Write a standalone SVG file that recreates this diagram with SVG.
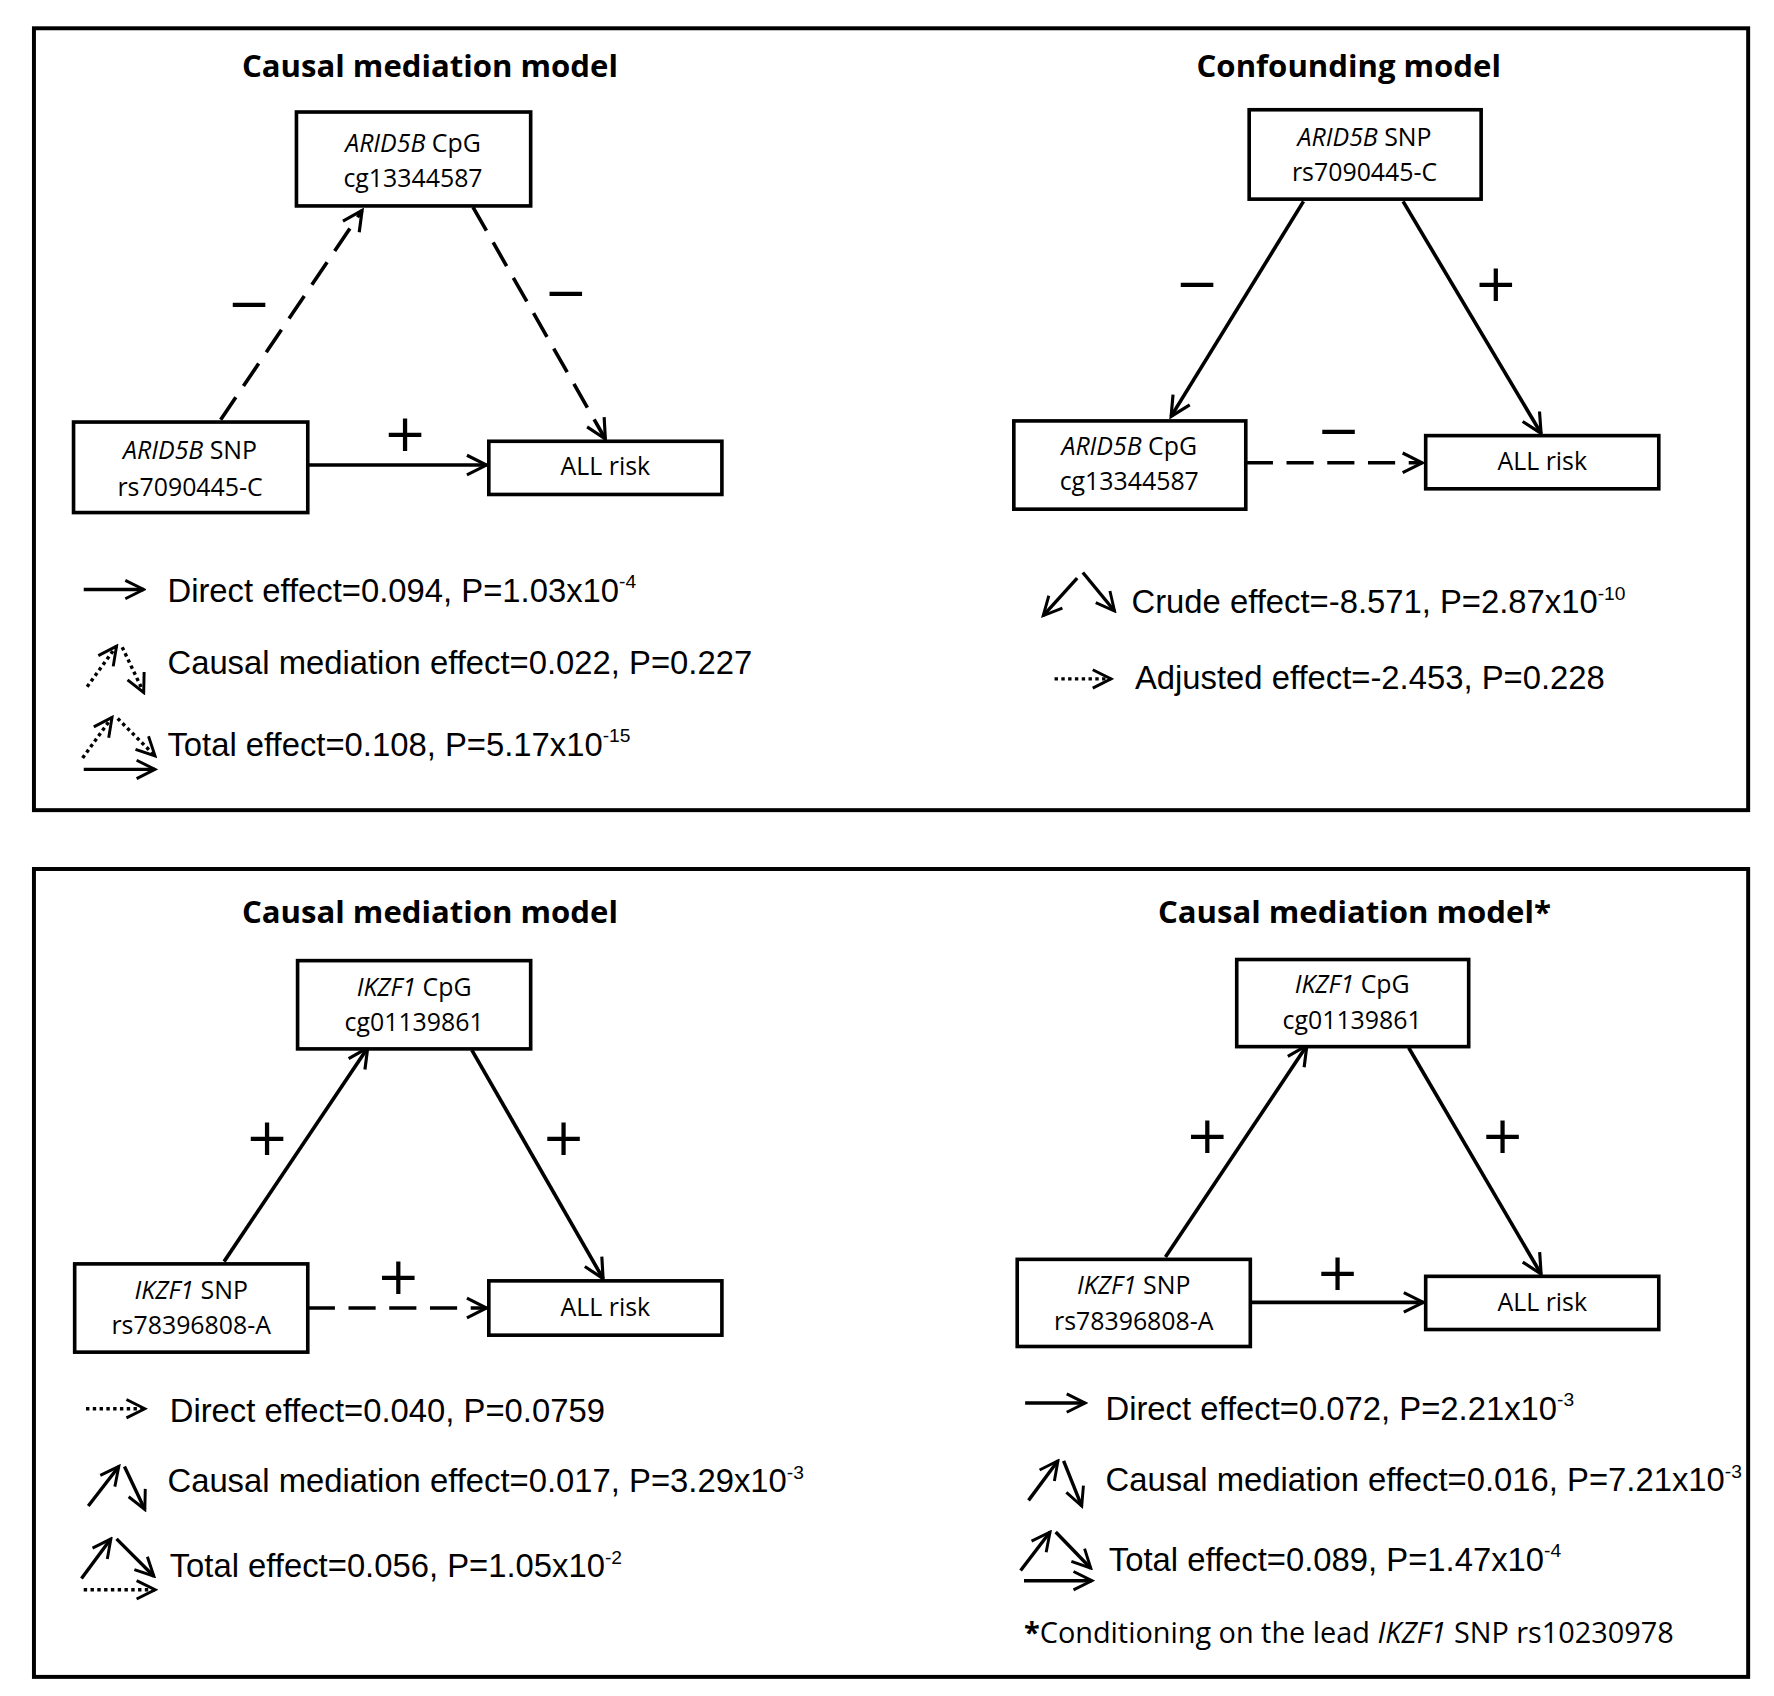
<svg xmlns="http://www.w3.org/2000/svg" width="1774" height="1696" viewBox="0 0 1774 1696">
<style>
.p{fill:none;stroke:#000;stroke-width:3.5}
.b{fill:#fff;stroke:#000;stroke-width:3.2}
.t{font-family:"Open Sans","Liberation Sans",sans-serif;font-weight:bold;font-size:27.5px;text-anchor:middle}
.n{font-family:"Open Sans","Liberation Sans",sans-serif;font-size:22px;text-anchor:middle}
.l{font-family:"Liberation Sans",Arial,sans-serif;font-size:29px}
.s{font-family:"DejaVu Sans",sans-serif;font-size:46px;text-anchor:middle}
.c{fill:none;stroke:#000;stroke-width:3.2;marker-end:url(#a)}
.d{stroke-dasharray:24 12}
.o{stroke-dasharray:3 3;stroke-width:3}
.k{fill:none;stroke:#000;stroke-width:3;marker-end:url(#a)}
</style>
<defs>
<marker id="a" viewBox="0 0 12 12" refX="11" refY="6" markerWidth="7" markerHeight="6.5" markerUnits="strokeWidth" orient="auto"><path d="M1,1 L11,6 L1,11" fill="none" stroke="#000" stroke-width="1.6"/></marker>
</defs>
<rect width="1774" height="1696" fill="#fff"/>
<g transform="scale(1.1315)">
<rect class="p" x="30" y="25" width="1515" height="691"/>
<rect class="p" x="30" y="768" width="1515" height="714"/>
<g id="titles">
<text class="t" x="380" y="68">Causal mediation model</text>
<text class="t" x="1192" y="68">Confounding model</text>
<text class="t" x="380" y="816">Causal mediation model</text>
<text class="t" x="1197" y="816">Causal mediation model*</text>
</g>
<g id="connectors">
<path class="c d" d="M195,371 L320,186"/>
<path class="c d" d="M418,183 L535,388"/>
<path class="c" d="M272,411 L430,411"/>
<path class="c" d="M1152,178 L1035,368"/>
<path class="c" d="M1240,178 L1362,383"/>
<path class="c d" d="M1101,409 L1257,409"/>
<path class="c" d="M198,1115 L325,926"/>
<path class="c" d="M417,928 L533,1130"/>
<path class="c d" d="M272,1156 L430,1156"/>
<path class="c" d="M1030,1111 L1155,924"/>
<path class="c" d="M1245,926 L1362,1126"/>
<path class="c" d="M1105,1151 L1258,1151"/>
</g>
<g id="signs">
<text class="s" x="220" y="284">−</text><text class="s" x="500" y="274">−</text><text class="s" x="358" y="399">+</text>
<text class="s" x="1058" y="266">−</text><text class="s" x="1322" y="266">+</text><text class="s" x="1183" y="396">−</text>
<text class="s" x="236" y="1021">+</text><text class="s" x="498" y="1021">+</text><text class="s" x="352" y="1144">+</text>
<text class="s" x="1067" y="1019">+</text><text class="s" x="1328" y="1019">+</text><text class="s" x="1182" y="1140">+</text>
</g>
<g id="n1"><rect class="b" x="262" y="99" width="207" height="83"/><text class="n" x="365" y="134"><tspan font-style="italic">ARID5B</tspan> CpG</text><text class="n" x="365" y="165">cg13344587</text></g>
<g id="n2"><rect class="b" x="65" y="373" width="207" height="80"/><text class="n" x="168" y="406"><tspan font-style="italic">ARID5B</tspan> SNP</text><text class="n" x="168" y="438">rs7090445-C</text></g>
<g id="n3"><rect class="b" x="432" y="390" width="206" height="47"/><text class="n" x="535" y="420">ALL risk</text></g>
<g id="n4"><rect class="b" x="1104" y="97" width="205" height="79"/><text class="n" x="1206" y="129"><tspan font-style="italic">ARID5B</tspan> SNP</text><text class="n" x="1206" y="160">rs7090445-C</text></g>
<g id="n5"><rect class="b" x="896" y="372" width="205" height="78"/><text class="n" x="998" y="402"><tspan font-style="italic">ARID5B</tspan> CpG</text><text class="n" x="998" y="433">cg13344587</text></g>
<g id="n6"><rect class="b" x="1260" y="385" width="206" height="47"/><text class="n" x="1363" y="415">ALL risk</text></g>
<g id="n7"><rect class="b" x="263" y="849" width="206" height="78"/><text class="n" x="366" y="880"><tspan font-style="italic">IKZF1</tspan> CpG</text><text class="n" x="366" y="911">cg01139861</text></g>
<g id="n8"><rect class="b" x="66" y="1117" width="206" height="78"/><text class="n" x="169" y="1148"><tspan font-style="italic">IKZF1</tspan> SNP</text><text class="n" x="169" y="1179">rs78396808-A</text></g>
<g id="n9"><rect class="b" x="432" y="1132" width="206" height="48"/><text class="n" x="535" y="1163">ALL risk</text></g>
<g id="n10"><rect class="b" x="1093" y="848" width="205" height="77"/><text class="n" x="1195" y="878"><tspan font-style="italic">IKZF1</tspan> CpG</text><text class="n" x="1195" y="909">cg01139861</text></g>
<g id="n11"><rect class="b" x="899" y="1113" width="206" height="77"/><text class="n" x="1002" y="1144"><tspan font-style="italic">IKZF1</tspan> SNP</text><text class="n" x="1002" y="1175">rs78396808-A</text></g>
<g id="n12"><rect class="b" x="1260" y="1128" width="206" height="47"/><text class="n" x="1363" y="1159">ALL risk</text></g>
<g id="legends">
<path class="k" d="M74,521 L127,521"/>
<text class="l" x="148" y="532">Direct effect=0.094, P=1.03x10<tspan font-size="17" dy="-12">-4</tspan></text>
<path class="k o" d="M77,607 L103,571"/><path class="k o" d="M108,572 L127,612"/>
<text class="l" x="148" y="596">Causal mediation effect=0.022, P=0.227</text>
<path class="k o" d="M73,670 L99,634"/><path class="k o" d="M104,635 L137,668"/><path class="k" d="M74,680 L137,680"/>
<text class="l" x="148" y="668">Total effect=0.108, P=5.17x10<tspan font-size="17" dy="-12">-15</tspan></text>
<path class="k" d="M952,511 L922,544"/><path class="k" d="M957,506 L985,540"/>
<text class="l" x="1000" y="542">Crude effect=-8.571, P=2.87x10<tspan font-size="17" dy="-12">-10</tspan></text>
<path class="k o" d="M932,600 L982,600"/>
<text class="l" x="1003" y="609">Adjusted effect=-2.453, P=0.228</text>
<path class="k o" d="M76,1245 L128,1245"/>
<text class="l" x="150" y="1257">Direct effect=0.040, P=0.0759</text>
<path class="k" d="M78,1331 L105,1296"/><path class="k" d="M110,1296 L128,1334"/>
<text class="l" x="148" y="1319">Causal mediation effect=0.017, P=3.29x10<tspan font-size="17" dy="-12">-3</tspan></text>
<path class="k" d="M72,1395 L98,1360"/><path class="k" d="M103,1360 L136,1393"/><path class="k o" d="M74,1405 L137,1405"/>
<text class="l" x="150" y="1394">Total effect=0.056, P=1.05x10<tspan font-size="17" dy="-12">-2</tspan></text>
<path class="k" d="M906,1240 L959,1240"/>
<text class="l" x="977" y="1255">Direct effect=0.072, P=2.21x10<tspan font-size="17" dy="-12">-3</tspan></text>
<path class="k" d="M909,1326 L935,1291"/><path class="k" d="M940,1291 L956,1331"/>
<text class="l" x="977" y="1318">Causal mediation effect=0.016, P=7.21x10<tspan font-size="17" dy="-12">-3</tspan></text>
<path class="k" d="M902,1388 L928,1354"/><path class="k" d="M933,1354 L964,1386"/><path class="k" d="M905,1397 L965,1397"/>
<text class="l" x="980" y="1388">Total effect=0.089, P=1.47x10<tspan font-size="17" dy="-12">-4</tspan></text>
<text x="905" y="1452" font-family="Open Sans, Liberation Sans, sans-serif" font-size="25.5"><tspan font-weight="bold">*</tspan>Conditioning on the lead <tspan font-style="italic">IKZF1</tspan> SNP rs10230978</text>
</g>
</g>
</svg>
